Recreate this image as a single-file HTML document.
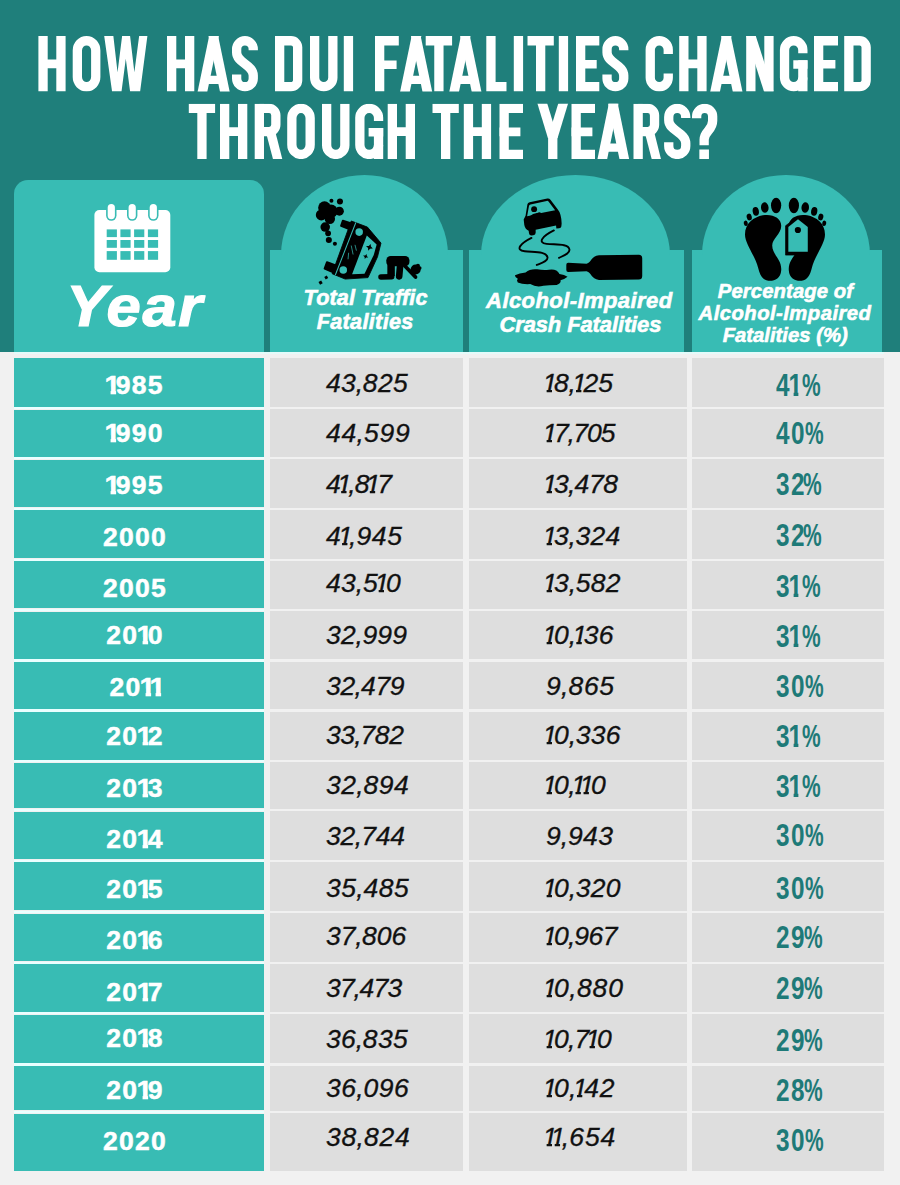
<!DOCTYPE html><html><head><meta charset="utf-8"><title>DUI Fatalities</title><style>
html,body{margin:0;padding:0}
html{width:900px;height:1185px;overflow:hidden}
body{width:900px;height:1185px;position:relative;overflow:hidden;background:#f1f1f1;font-family:"Liberation Sans",sans-serif}
.abs{position:absolute}
.banner{left:0;top:0;width:900px;height:352px;background:#1f7f7b}
.yr{position:absolute;background:#38bcb4;left:14px;width:250.2px}
.g2{position:absolute;background:#dedede;left:270.3px;width:192.7px}
.g3{position:absolute;background:#dedede;left:469px;width:217.6px}
.g4{position:absolute;background:#dedede;left:692px;width:192px}
.wl{position:absolute;left:14px;width:250.2px;height:2.4px;background:#e9ffff}
.ty{position:absolute;left:35px;width:200px;text-align:center;color:#fff;font-weight:bold;font-size:26.5px;height:30px;line-height:30px;letter-spacing:1.3px;-webkit-text-stroke:0.5px #fff;white-space:nowrap}
.ty i{font-style:normal;display:inline-block;letter-spacing:0;margin:0 -4.2px 0 -1.2px;transform:scaleX(1.08);transform-origin:6px 50%;clip-path:polygon(0 0,74% 0,74% 100%,38% 100%,38% 56%,0 56%)}
.tn{position:absolute;color:#111;font-style:italic;font-size:25px;height:30px;line-height:30px;letter-spacing:1.2px;white-space:nowrap;transform:scaleX(1.06);transform-origin:0 50%;-webkit-text-stroke:0.3px #111}
.tn i{display:inline-block;letter-spacing:0;margin:0 -3.05px 0 -3.25px;clip-path:polygon(0 0,100% 0,100% 62%,64% 62%,64% 100%,28% 100%,28% 62%,0 62%)}
.tn b{font-weight:normal;margin:0 -0.6px 0 -0.4px}
.tp{position:absolute;left:776.3px;color:#1e7a78;font-weight:bold;font-size:32px;height:34px;line-height:34px;white-space:nowrap;transform-origin:0 50%;transform:scaleX(0.76);letter-spacing:2px}
.tp i{font-style:normal;display:inline-block;letter-spacing:0;margin:0 -3px 0 -3.4px;clip-path:polygon(0 0,74% 0,74% 100%,38% 100%,38% 56%,0 56%)}
.pc{position:absolute;color:#1e7a78;font-weight:bold;font-size:32px;height:34px;line-height:34px;transform-origin:0 50%;transform:scaleX(0.655)}
.hl{position:absolute;color:#fff;font-weight:bold;font-style:italic;text-align:center;white-space:nowrap;-webkit-text-stroke:0.6px #fff}
</style></head><body>
<div class="abs banner"></div>
<div class="abs" style="left:14px;top:352px;width:870px;height:2px;background:#e4fbfa"></div>
<svg class="abs" style="left:0;top:0" width="900" height="175" viewBox="0 0 900 175">
<defs><clipPath id="cl"><rect x="-5" y="0" width="60" height="55.3"/></clipPath></defs>
<g fill="none" stroke="#fff" stroke-linecap="butt" stroke-linejoin="miter">
<g transform="translate(38.4,36.1)" clip-path="url(#cl)"><path d="M4.65,0V55.3M22.55,0V55.3" stroke-width="9.3" /><path d="M4.65,27.8H22.55" stroke-width="8.8" /></g>
<g transform="translate(72.7,36.1)" clip-path="url(#cl)"><rect x="4.65" y="4.65" width="18.4" height="46" rx="9.2" ry="9.66" stroke-width="9.3"/></g>
<g transform="translate(104.2,36.1)" clip-path="url(#cl)"><path d="M0,0L9.16,0L13.34,36.1L17.92,0L25.88,0L30.16,36.1L34.94,0L43.2,0L35.93,55.3L25.88,55.3L21.6,22.6L17.32,55.3L7.86,55.3Z" fill="#fff" stroke="none"/></g>
<g transform="translate(167,36.1)" clip-path="url(#cl)"><path d="M4.65,0V55.3M22.65,0V55.3" stroke-width="9.3" /><path d="M4.65,27.8H22.65" stroke-width="8.8" /></g>
<g transform="translate(197.5,36.1)" clip-path="url(#cl)"><path d="M2.95,65.3L17.72,-6" stroke-width="9.5" /><path d="M29.35,65.3L14.58,-6" stroke-width="9.5" /><path d="M7,43.8H25.3" stroke-width="8.2" /></g>
<g transform="translate(232,36.1)" clip-path="url(#cl)"><path d="M21.25,14.2V12.95A8.3,8.3 0 0 0 4.65,12.95V16.5C4.65,27 21.25,28.5 21.25,39.5V42.35A8.3,8.3 0 0 1 4.65,42.35V38.4" stroke-width="9.3" /></g>
<g transform="translate(275,36.1)" clip-path="url(#cl)"><path d="M4.65,4.65H16.05A6.6,6.6 0 0 1 22.65,11.25V44.05A6.6,6.6 0 0 1 16.05,50.65H4.65Z" stroke-width="9.3" stroke-linejoin="miter"/></g>
<g transform="translate(310,36.1)" clip-path="url(#cl)"><path d="M4.65,0V41.55A9.1,9.1 0 0 0 22.85,41.55V0" stroke-width="9.3" /></g>
<g transform="translate(343.8,36.1)" clip-path="url(#cl)"><path d="M4.65,0V55.3" stroke-width="9.3" /></g>
<g transform="translate(375,36.1)" clip-path="url(#cl)"><path d="M4.65,0V55.3M0,4.65H23.8" stroke-width="9.3" /><path d="M0,28.6H21.6" stroke-width="8.6" /></g>
<g transform="translate(400,36.1)" clip-path="url(#cl)"><path d="M2.95,65.3L17.72,-6" stroke-width="9.5" /><path d="M29.35,65.3L14.58,-6" stroke-width="9.5" /><path d="M7,43.8H25.3" stroke-width="8.2" /></g>
<g transform="translate(425.7,36.1)" clip-path="url(#cl)"><path d="M0,4.65H26.4M13.2,0V55.3" stroke-width="9.3" /></g>
<g transform="translate(449.2,36.1)" clip-path="url(#cl)"><path d="M2.95,65.3L17.72,-6" stroke-width="9.5" /><path d="M29.35,65.3L14.58,-6" stroke-width="9.5" /><path d="M7,43.8H25.3" stroke-width="8.2" /></g>
<g transform="translate(486.3,36.1)" clip-path="url(#cl)"><path d="M4.65,0V55.3M0,50.65H20.2" stroke-width="9.3" /></g>
<g transform="translate(513.8,36.1)" clip-path="url(#cl)"><path d="M4.65,0V55.3" stroke-width="9.3" /></g>
<g transform="translate(527.5,36.1)" clip-path="url(#cl)"><path d="M0,4.65H26.3M13.15,0V55.3" stroke-width="9.3" /></g>
<g transform="translate(558.8,36.1)" clip-path="url(#cl)"><path d="M4.65,0V55.3" stroke-width="9.3" /></g>
<g transform="translate(576,36.1)" clip-path="url(#cl)"><path d="M4.65,0V55.3M0,4.65H23.3M0,50.65H23.3" stroke-width="9.3" /><path d="M0,28.1H20.7" stroke-width="8.6" /></g>
<g transform="translate(602.4,36.1)" clip-path="url(#cl)"><path d="M21.35,14.2V13A8.35,8.35 0 0 0 4.65,13V16.5C4.65,27 21.35,28.5 21.35,39.5V42.3A8.35,8.35 0 0 1 4.65,42.3V38.4" stroke-width="9.3" /></g>
<g transform="translate(645.6,36.1)" clip-path="url(#cl)"><path d="M22.65,17.8V13.65A9,9 0 0 0 4.65,13.65V41.65A9,9 0 0 0 22.65,41.65V37.3" stroke-width="9.3" /></g>
<g transform="translate(679.2,36.1)" clip-path="url(#cl)"><path d="M4.65,0V55.3M22.75,0V55.3" stroke-width="9.3" /><path d="M4.65,27.8H22.75" stroke-width="8.8" /></g>
<g transform="translate(710.1,36.1)" clip-path="url(#cl)"><path d="M2.95,65.3L17.82,-6" stroke-width="9.5" /><path d="M29.55,65.3L14.68,-6" stroke-width="9.5" /><path d="M7,43.8H25.5" stroke-width="8.2" /></g>
<g transform="translate(746.2,36.1)" clip-path="url(#cl)"><path d="M4.65,0V55.3M22.75,0V55.3" stroke-width="9.3" /><path d="M0,0H9.6L27.4,55.3H17.8Z" fill="#fff" stroke="none"/></g>
<g transform="translate(779.9,36.1)" clip-path="url(#cl)"><path d="M22.95,17.2V13.8A9.15,9.15 0 0 0 4.65,13.8V41.5A9.15,9.15 0 0 0 22.95,41.5" stroke-width="9.3" /><path d="M22.95,55.3V24.2" stroke-width="9.3" /><path d="M13.4,28.4H27.6" stroke-width="8.6" /></g>
<g transform="translate(814,36.1)" clip-path="url(#cl)"><path d="M4.65,0V55.3M0,4.65H24M0,50.65H24" stroke-width="9.3" /><path d="M0,28.1H21.4" stroke-width="8.6" /></g>
<g transform="translate(844.2,36.1)" clip-path="url(#cl)"><path d="M4.65,4.65H15.35A6.6,6.6 0 0 1 21.95,11.25V44.05A6.6,6.6 0 0 1 15.35,50.65H4.65Z" stroke-width="9.3" stroke-linejoin="miter"/></g>
</g>
<g fill="none" stroke="#fff" stroke-linecap="butt" stroke-linejoin="miter">
<g transform="translate(188.8,103.8)" clip-path="url(#cl)"><path d="M0,4.65H26.3M13.15,0V55.3" stroke-width="9.3" /></g>
<g transform="translate(220,103.8)" clip-path="url(#cl)"><path d="M4.65,0V55.3M22.65,0V55.3" stroke-width="9.3" /><path d="M4.65,27.8H22.65" stroke-width="8.8" /></g>
<g transform="translate(254.7,103.8)" clip-path="url(#cl)"><path d="M4.65,0V55.3" stroke-width="9.3" /><path d="M4.65,4.65H14.35A6.8,6.8 0 0 1 21.15,11.45V21A6.8,6.8 0 0 1 14.35,27.8H4.65" stroke-width="9.3" /><path d="M12,31.5L21,29.5L27.6,55.3H18.3Z" fill="#fff" stroke="none"/></g>
<g transform="translate(287.2,103.8)" clip-path="url(#cl)"><rect x="4.65" y="4.65" width="18.3" height="46" rx="9.15" ry="9.61" stroke-width="9.3"/></g>
<g transform="translate(322,103.8)" clip-path="url(#cl)"><path d="M4.65,0V41.55A9.1,9.1 0 0 0 22.85,41.55V0" stroke-width="9.3" /></g>
<g transform="translate(355.2,103.8)" clip-path="url(#cl)"><path d="M23.35,17.2V14A9.35,9.35 0 0 0 4.65,14V41.3A9.35,9.35 0 0 0 23.35,41.3" stroke-width="9.3" /><path d="M23.35,55.3V24.2" stroke-width="9.3" /><path d="M13.4,28.4H28" stroke-width="8.6" /></g>
<g transform="translate(387.7,103.8)" clip-path="url(#cl)"><path d="M4.65,0V55.3M22.65,0V55.3" stroke-width="9.3" /><path d="M4.65,27.8H22.65" stroke-width="8.8" /></g>
<g transform="translate(432.5,103.8)" clip-path="url(#cl)"><path d="M0,4.65H26.3M13.15,0V55.3" stroke-width="9.3" /></g>
<g transform="translate(463.8,103.8)" clip-path="url(#cl)"><path d="M4.65,0V55.3M22.65,0V55.3" stroke-width="9.3" /><path d="M4.65,27.8H22.65" stroke-width="8.8" /></g>
<g transform="translate(499.5,103.8)" clip-path="url(#cl)"><path d="M4.65,0V55.3M0,4.65H23.5M0,50.65H23.5" stroke-width="9.3" /><path d="M0,28.1H20.9" stroke-width="8.6" /></g>
<g transform="translate(537.5,103.8)" clip-path="url(#cl)"><path d="M3.4,-5L14.95,33" stroke-width="9.4" /><path d="M27.1,-5L15.55,33" stroke-width="9.4" /><path d="M15.25,30V55.3" stroke-width="9.3" /></g>
<g transform="translate(571.5,103.8)" clip-path="url(#cl)"><path d="M4.65,0V55.3M0,4.65H23.5M0,50.65H23.5" stroke-width="9.3" /><path d="M0,28.1H20.9" stroke-width="8.6" /></g>
<g transform="translate(597.3,103.8)" clip-path="url(#cl)"><path d="M2.95,65.3L17.57,-6" stroke-width="9.5" /><path d="M29.05,65.3L14.43,-6" stroke-width="9.5" /><path d="M7,43.8H25" stroke-width="8.2" /></g>
<g transform="translate(633.5,103.8)" clip-path="url(#cl)"><path d="M4.65,0V55.3" stroke-width="9.3" /><path d="M4.65,4.65H14.25A6.8,6.8 0 0 1 21.05,11.45V21A6.8,6.8 0 0 1 14.25,27.8H4.65" stroke-width="9.3" /><path d="M12,31.5L21,29.5L27.5,55.3H18.2Z" fill="#fff" stroke="none"/></g>
<g transform="translate(664.1,103.8)" clip-path="url(#cl)"><path d="M21.65,14.2V13.15A8.5,8.5 0 0 0 4.65,13.15V16.5C4.65,27 21.65,28.5 21.65,39.5V42.15A8.5,8.5 0 0 1 4.65,42.15V38.4" stroke-width="9.3" /></g>
<g transform="translate(692,103.8)" clip-path="url(#cl)"><path d="M4.65,14.5V12.65A8,8 0 0 1 20.65,12.65V17C20.65,27 12.15,27 12.15,36V41.4" stroke-width="9.3" /><path d="M12.15,45.7V55.3" stroke-width="9.6" /></g>
</g>
</svg>
<div class="abs" style="left:14px;top:180px;width:250px;height:172px;background:#38bcb4;border-radius:14px 14px 0 0"></div>
<div class="abs" style="left:270.2px;top:250px;width:192.8px;height:102px;background:#38bcb4"></div><div class="abs" style="left:281px;top:175px;width:167.0px;height:160px;background:#38bcb4;border-radius:83.5px 83.5px 0 0 / 80px 80px 0 0"></div>
<div class="abs" style="left:469px;top:250px;width:215.3px;height:102px;background:#38bcb4"></div><div class="abs" style="left:481px;top:175px;width:189.0px;height:160px;background:#38bcb4;border-radius:94.5px 94.5px 0 0 / 80px 80px 0 0"></div>
<div class="abs" style="left:692px;top:250px;width:190.0px;height:102px;background:#38bcb4"></div><div class="abs" style="left:702px;top:175px;width:167.5px;height:160px;background:#38bcb4;border-radius:83.75px 83.75px 0 0 / 80px 80px 0 0"></div>
<svg class="abs" style="left:0;top:0" width="900" height="352" viewBox="0 0 900 352">
<g>
<rect x="94.4" y="210" width="75.9" height="62.2" rx="5" fill="#fff"/>
<rect x="106.1" y="202.6" width="10.4" height="18.2" rx="5.2" fill="#38bcb4"/>
<rect x="107.7" y="204.1" width="7.2" height="15.1" rx="3.6" fill="#fff"/>
<rect x="126.99999999999999" y="202.6" width="10.4" height="18.2" rx="5.2" fill="#38bcb4"/>
<rect x="128.6" y="204.1" width="7.2" height="15.1" rx="3.6" fill="#fff"/>
<rect x="148.10000000000002" y="202.6" width="10.4" height="18.2" rx="5.2" fill="#38bcb4"/>
<rect x="149.70000000000002" y="204.1" width="7.2" height="15.1" rx="3.6" fill="#fff"/>
<rect x="106.7" y="229.4" width="10.2" height="7.7" fill="#38bcb4"/>
<rect x="106.7" y="240.0" width="10.2" height="7.8" fill="#38bcb4"/>
<rect x="106.7" y="251.1" width="10.2" height="8.7" fill="#38bcb4"/>
<rect x="120.4" y="229.4" width="10.2" height="7.7" fill="#38bcb4"/>
<rect x="120.4" y="240.0" width="10.2" height="7.8" fill="#38bcb4"/>
<rect x="120.4" y="251.1" width="10.2" height="8.7" fill="#38bcb4"/>
<rect x="134.1" y="229.4" width="10.2" height="7.7" fill="#38bcb4"/>
<rect x="134.1" y="240.0" width="10.2" height="7.8" fill="#38bcb4"/>
<rect x="134.1" y="251.1" width="10.2" height="8.7" fill="#38bcb4"/>
<rect x="147.9" y="229.4" width="10.2" height="7.7" fill="#38bcb4"/>
<rect x="147.9" y="240.0" width="10.2" height="7.8" fill="#38bcb4"/>
<rect x="147.9" y="251.1" width="10.2" height="8.7" fill="#38bcb4"/>
</g>
<g transform="translate(305,195) scale(0.14444)" fill="#000">
<circle cx="135" cy="88" r="44"/>
<circle cx="113" cy="138" r="38"/>
<circle cx="180" cy="112" r="46"/>
<circle cx="238" cy="112" r="31"/>
<circle cx="172" cy="165" r="36"/>
<circle cx="140" cy="222" r="33"/>
<circle cx="160" cy="265" r="20"/>
<circle cx="183" cy="40" r="14"/>
<circle cx="242" cy="45" r="21"/>
<circle cx="165" cy="312" r="21"/>
<circle cx="207" cy="337" r="14"/>
<circle cx="150" cy="130" r="40"/>
<path d="M262,178 L342,204 L328,244 L250,214 Z" stroke="#000" stroke-width="14" stroke-linejoin="round"/>
<path d="M152,466 L222,492 L204,538 L136,510 Z" stroke="#000" stroke-width="14" stroke-linejoin="round"/>
<path d="M320,180 L432,222 L526,333 L502,428 L436,572 L278,582 L188,545 Z" stroke="#000" stroke-width="6" stroke-linejoin="round"/>
<path d="M352,190 L210,554" stroke="#38bcb4" stroke-width="7" fill="none"/>
<path d="M428,280 L496,342 L476,416 L412,546 L326,549 Z" fill="#38bcb4"/>
<circle cx="375" cy="257" r="26" fill="#38bcb4"/>
<circle cx="265" cy="520" r="26" fill="#38bcb4"/>
<path d="M320,350 L333,412 M346,345 L356,385 M302,400 L298,445" stroke="#38bcb4" stroke-width="5" fill="none"/>
<path d="M446,337 L454.25,353.75 L471,362 L453.5,369.5 L446,387 L438.5,369.5 L421,362 L438.5,354.5 Z" transform="rotate(20 446 362)"/>
<path d="M420,407 L426.27,419.73 L439,426 L425.7,431.7 L420,445 L414.3,431.7 L401,426 L414.3,420.3 Z" transform="rotate(20 420 426)"/>
<path d="M147,557 L161,571 L147,585 L133,571 Z" transform="rotate(15 147 571)"/>
<path d="M108,592 L123,607 L108,622 L93,607 Z" transform="rotate(15 108 607)"/>
<rect x="563" y="422" width="160" height="72" rx="30"/>
<path d="M596,480 L596,562" stroke="#000" stroke-width="52" stroke-linecap="butt" fill="none"/>
<path d="M526,568 L600,566" stroke="#000" stroke-width="38" stroke-linecap="round" fill="none"/>
<path d="M658,495 L652,563" stroke="#000" stroke-width="46" stroke-linecap="round" fill="none"/>
<path d="M690,490 L765,568" stroke="#000" stroke-width="26" stroke-linecap="round" fill="none"/>
<circle cx="766" cy="516" r="35"/><circle cx="782" cy="490" r="14"/><circle cx="795" cy="506" r="12"/>
</g>
<g transform="translate(510,190) scale(0.15556)" fill="#000">
<path d="M88,190 L100,165 L112,92 Q114,82 126,78 L240,55 Q252,53 260,62 L305,122 Q330,150 332,215 L330,235 Q328,246 316,246 L298,248 L296,228 L165,255 L165,275 Q165,290 150,291 L138,292 Q124,292 122,278 L120,262 Q96,250 92,225 Z"/>
<path d="M110,168 L122,103 Q124,95 132,93 L236,70 Q244,69 249,75 L290,130 L200,148 Q190,140 178,146 L165,158 Z" fill="#38bcb4"/>
<circle cx="155" cy="123" r="19"/>
<path d="M125,170 Q155,140 190,150 L200,160 L120,180 Z"/>
<path d="M138,308 C70,342 28,386 95,394 C150,401 232,392 241,432 C246,456 205,468 172,482" stroke="#000" stroke-width="12" fill="none" stroke-linecap="round"/>
<path d="M282,260 C212,295 172,338 235,346 C290,353 374,342 382,382 C386,408 348,421 315,436" stroke="#000" stroke-width="12" fill="none" stroke-linecap="round"/>
<path d="M362,480 Q362,468 374,468 L492,474 C525,468 520,424 572,420 L828,417 Q850,417 850,440 L850,553 Q850,576 828,576 L572,578 C520,574 525,530 492,523 L374,527 Q362,527 362,515 Z"/>
<path d="M32,548 Q60,535 100,530 Q130,505 175,510 Q215,518 250,513 Q300,505 318,540 Q350,545 370,558 Q350,575 325,580 Q330,600 300,610 Q250,612 215,615 Q170,628 130,605 Q80,608 50,595 Q40,580 50,570 Q30,560 32,548 Z"/>
</g>
<g transform="translate(735,190) scale(0.11111)" fill="#000">
<path d="M250,228 C335,212 418,250 416,325 C414,400 335,440 335,500 C335,585 422,620 416,722 C411,800 350,822 300,816 C248,810 225,770 208,700 C186,600 90,485 90,400 C90,300 170,243 250,228 Z"/>
<path d="M250,228 C335,212 418,250 416,325 C414,400 335,440 335,500 C335,585 422,620 416,722 C411,800 350,822 300,816 C248,810 225,770 208,700 C186,600 90,485 90,400 C90,300 170,243 250,228 Z" transform="translate(900,0) scale(-1,1)"/>
<ellipse cx="370" cy="140" rx="46" ry="70" transform="rotate(0.0 370 140)"/>
<ellipse cx="530" cy="140" rx="46" ry="70" transform="rotate(-0.0 530 140)"/>
<ellipse cx="268" cy="158" rx="34" ry="47" transform="rotate(-5.1 268 158)"/>
<ellipse cx="632" cy="158" rx="34" ry="47" transform="rotate(5.1 632 158)"/>
<ellipse cx="187" cy="192" rx="28" ry="40" transform="rotate(-9.2 187 192)"/>
<ellipse cx="713" cy="192" rx="28" ry="40" transform="rotate(9.2 713 192)"/>
<ellipse cx="128" cy="243" rx="23" ry="31" transform="rotate(-12.1 128 243)"/>
<ellipse cx="772" cy="243" rx="23" ry="31" transform="rotate(12.1 772 243)"/>
<ellipse cx="97" cy="300" rx="18" ry="25" transform="rotate(-13.7 97 300)"/>
<ellipse cx="803" cy="300" rx="18" ry="25" transform="rotate(13.7 803 300)"/>
<path d="M455,322 L566,238 L678,322 L678,586 L455,586 Z" stroke="#000" stroke-width="6" stroke-linejoin="round"/>
<path d="M480,333 L567,264 L655,333 L655,556 L480,556 Z" fill="#38bcb4"/>
<circle cx="566" cy="360" r="28"/>
</g>
</svg>
<div class="hl" style="left:39.6px;width:190px;top:271.9px;font-size:57px;line-height:68.4px;height:68.4px;letter-spacing:1.5px;transform:scaleX(1.08);-webkit-text-stroke:1.2px #fff">Year</div>
<div class="hl" style="left:270.6px;width:190px;top:285.2px;font-size:21.6px;line-height:25.9px;height:25.9px;letter-spacing:0.15px;">Total Traffic</div>
<div class="hl" style="left:270.2px;width:190px;top:309.4px;font-size:21.6px;line-height:25.9px;height:25.9px;letter-spacing:0.35px;">Fatalities</div>
<div class="hl" style="left:484.3px;width:190px;top:287.9px;font-size:22px;line-height:26.4px;height:26.4px;letter-spacing:0.42px;">Alcohol-Impaired</div>
<div class="hl" style="left:485.4px;width:190px;top:312.2px;font-size:22px;line-height:26.4px;height:26.4px;letter-spacing:-0.12px;">Crash Fatalities</div>
<div class="hl" style="left:690.5px;width:190px;top:278.6px;font-size:20.3px;line-height:24.4px;height:24.4px;letter-spacing:0.1px;">Percentage of</div>
<div class="hl" style="left:690.0px;width:190px;top:300.9px;font-size:20.3px;line-height:24.4px;height:24.4px;letter-spacing:0.45px;">Alcohol-Impaired</div>
<div class="hl" style="left:690.2px;width:190px;top:323.0px;font-size:20.3px;line-height:24.4px;height:24.4px;letter-spacing:0.0px;">Fatalities (%)</div>
<div class="yr" style="top:358.0px;height:48.8px"></div><div class="g2" style="top:358.0px;height:49.2px"></div><div class="g3" style="top:358.0px;height:49.2px"></div><div class="g4" style="top:358.0px;height:49.2px"></div>
<div class="wl" style="top:407.1px"></div>
<div class="ty" style="top:369.7px"><i>1</i>985</div>
<div class="tn" style="left:325.9px;top:368.4px;letter-spacing:0.32px">43<b>,</b>825</div>
<div class="tn" style="left:545.9px;top:368.4px;letter-spacing:0.09px"><i>1</i>8<b>,</b><i>1</i>25</div>
<div class="tp" style="top:368.4px">4<i>1</i></div>
<div class="pc" style="left:801.6px;top:368.4px">%</div>
<div class="yr" style="top:409.8px;height:47.0px"></div><div class="g2" style="top:409.4px;height:47.8px"></div><div class="g3" style="top:409.4px;height:47.8px"></div><div class="g4" style="top:409.4px;height:47.8px"></div>
<div class="wl" style="top:457.1px"></div>
<div class="ty" style="top:418.4px"><i>1</i>990</div>
<div class="tn" style="left:325.9px;top:417.8px;letter-spacing:0.69px">44<b>,</b>599</div>
<div class="tn" style="left:545.9px;top:417.8px;letter-spacing:-0.93px"><i>1</i>7<b>,</b>705</div>
<div class="tp" style="top:416.4px">40</div>
<div class="pc" style="left:805.1px;top:416.4px">%</div>
<div class="yr" style="top:459.8px;height:47.4px"></div><div class="g2" style="top:459.4px;height:48.2px"></div><div class="g3" style="top:459.4px;height:48.2px"></div><div class="g4" style="top:459.4px;height:48.2px"></div>
<div class="wl" style="top:507.5px"></div>
<div class="ty" style="top:469.9px"><i>1</i>995</div>
<div class="tn" style="left:325.9px;top:469.0px;letter-spacing:-0.23px">4<i>1</i><b>,</b>8<i>1</i>7</div>
<div class="tn" style="left:545.9px;top:469.0px;letter-spacing:-0.30px"><i>1</i>3<b>,</b>478</div>
<div class="tp" style="top:466.7px">32</div>
<div class="pc" style="left:802.8px;top:466.7px">%</div>
<div class="yr" style="top:510.2px;height:48.1px"></div><div class="g2" style="top:509.8px;height:48.9px"></div><div class="g3" style="top:509.8px;height:48.9px"></div><div class="g4" style="top:509.8px;height:48.9px"></div>
<div class="wl" style="top:558.6px"></div>
<div class="ty" style="top:521.5px">2000</div>
<div class="tn" style="left:325.9px;top:520.6px;letter-spacing:0.62px">4<i>1</i><b>,</b>945</div>
<div class="tn" style="left:545.9px;top:520.6px;letter-spacing:0.22px"><i>1</i>3<b>,</b>324</div>
<div class="tp" style="top:518.2px">32</div>
<div class="pc" style="left:802.8px;top:518.2px">%</div>
<div class="yr" style="top:561.3px;height:47.2px"></div><div class="g2" style="top:560.9px;height:48.0px"></div><div class="g3" style="top:560.9px;height:48.0px"></div><div class="g4" style="top:560.9px;height:48.0px"></div>
<div class="wl" style="top:608.8px"></div>
<div class="ty" style="top:573.0px">2005</div>
<div class="tn" style="left:325.9px;top:567.7px;letter-spacing:0.35px">43<b>,</b>5<i>1</i>0</div>
<div class="tn" style="left:545.9px;top:567.7px;letter-spacing:0.24px"><i>1</i>3<b>,</b>582</div>
<div class="tp" style="top:568.9px">3<i>1</i></div>
<div class="pc" style="left:801.6px;top:568.9px">%</div>
<div class="yr" style="top:611.5px;height:47.6px"></div><div class="g2" style="top:611.1px;height:48.4px"></div><div class="g3" style="top:611.1px;height:48.4px"></div><div class="g4" style="top:611.1px;height:48.4px"></div>
<div class="wl" style="top:659.4px"></div>
<div class="ty" style="top:620.3px">20<i>1</i>0</div>
<div class="tn" style="left:325.9px;top:619.6px;letter-spacing:0.18px">32<b>,</b>999</div>
<div class="tn" style="left:545.9px;top:619.6px;letter-spacing:0.27px"><i>1</i>0<b>,</b><i>1</i>36</div>
<div class="tp" style="top:618.5px">3<i>1</i></div>
<div class="pc" style="left:801.6px;top:618.5px">%</div>
<div class="yr" style="top:662.1px;height:47.0px"></div><div class="g2" style="top:661.7px;height:47.8px"></div><div class="g3" style="top:661.7px;height:47.8px"></div><div class="g4" style="top:661.7px;height:47.8px"></div>
<div class="wl" style="top:709.4px"></div>
<div class="ty" style="top:671.8px">20<i>1</i><i>1</i></div>
<div class="tn" style="left:325.9px;top:671.2px;letter-spacing:-0.27px">32<b>,</b>479</div>
<div class="tn" style="left:545.9px;top:671.2px;letter-spacing:0.65px">9<b>,</b>865</div>
<div class="tp" style="top:668.7px">30</div>
<div class="pc" style="left:804.5px;top:668.7px">%</div>
<div class="yr" style="top:712.1px;height:47.6px"></div><div class="g2" style="top:711.7px;height:48.4px"></div><div class="g3" style="top:711.7px;height:48.4px"></div><div class="g4" style="top:711.7px;height:48.4px"></div>
<div class="wl" style="top:760.0px"></div>
<div class="ty" style="top:720.6px">20<i>1</i>2</div>
<div class="tn" style="left:325.9px;top:719.5px;letter-spacing:-0.40px">33<b>,</b>782</div>
<div class="tn" style="left:545.9px;top:719.5px;letter-spacing:0.24px"><i>1</i>0<b>,</b>336</div>
<div class="tp" style="top:718.8px">3<i>1</i></div>
<div class="pc" style="left:801.6px;top:718.8px">%</div>
<div class="yr" style="top:762.7px;height:45.8px"></div><div class="g2" style="top:762.3px;height:46.6px"></div><div class="g3" style="top:762.3px;height:46.6px"></div><div class="g4" style="top:762.3px;height:46.6px"></div>
<div class="wl" style="top:808.8px"></div>
<div class="ty" style="top:772.6px">20<i>1</i>3</div>
<div class="tn" style="left:325.9px;top:769.7px;letter-spacing:0.52px">32<b>,</b>894</div>
<div class="tn" style="left:545.9px;top:769.7px;letter-spacing:-0.15px"><i>1</i>0<b>,</b><i>1</i><i>1</i>0</div>
<div class="tp" style="top:768.6px">3<i>1</i></div>
<div class="pc" style="left:801.6px;top:768.6px">%</div>
<div class="yr" style="top:811.5px;height:47.9px"></div><div class="g2" style="top:811.1px;height:48.7px"></div><div class="g3" style="top:811.1px;height:48.7px"></div><div class="g4" style="top:811.1px;height:48.7px"></div>
<div class="wl" style="top:859.7px"></div>
<div class="ty" style="top:823.8px">20<i>1</i>4</div>
<div class="tn" style="left:325.9px;top:821.3px;letter-spacing:-0.20px">32<b>,</b>744</div>
<div class="tn" style="left:545.9px;top:821.3px;letter-spacing:0.38px">9<b>,</b>943</div>
<div class="tp" style="top:818.0px">30</div>
<div class="pc" style="left:804.5px;top:818.0px">%</div>
<div class="yr" style="top:862.4px;height:48.1px"></div><div class="g2" style="top:862.0px;height:48.9px"></div><div class="g3" style="top:862.0px;height:48.9px"></div><div class="g4" style="top:862.0px;height:48.9px"></div>
<div class="wl" style="top:910.8px"></div>
<div class="ty" style="top:873.8px">20<i>1</i>5</div>
<div class="tn" style="left:325.9px;top:872.8px;letter-spacing:0.52px">35<b>,</b>485</div>
<div class="tn" style="left:545.9px;top:872.8px;letter-spacing:0.25px"><i>1</i>0<b>,</b>320</div>
<div class="tp" style="top:870.6px">30</div>
<div class="pc" style="left:804.5px;top:870.6px">%</div>
<div class="yr" style="top:913.5px;height:47.8px"></div><div class="g2" style="top:913.1px;height:48.6px"></div><div class="g3" style="top:913.1px;height:48.6px"></div><div class="g4" style="top:913.1px;height:48.6px"></div>
<div class="wl" style="top:961.6px"></div>
<div class="ty" style="top:925.4px">20<i>1</i>6</div>
<div class="tn" style="left:325.9px;top:920.8px;letter-spacing:0.05px">37<b>,</b>806</div>
<div class="tn" style="left:545.9px;top:920.8px;letter-spacing:-0.45px"><i>1</i>0<b>,</b>967</div>
<div class="tp" style="top:920.1px">29</div>
<div class="pc" style="left:803.5px;top:920.1px">%</div>
<div class="yr" style="top:964.3px;height:47.5px"></div><div class="g2" style="top:963.9px;height:48.3px"></div><div class="g3" style="top:963.9px;height:48.3px"></div><div class="g4" style="top:963.9px;height:48.3px"></div>
<div class="wl" style="top:1012.1px"></div>
<div class="ty" style="top:977.0px">20<i>1</i>7</div>
<div class="tn" style="left:325.9px;top:973.4px;letter-spacing:-0.73px">37<b>,</b>473</div>
<div class="tn" style="left:545.9px;top:973.4px;letter-spacing:0.85px"><i>1</i>0<b>,</b>880</div>
<div class="tp" style="top:970.9px">29</div>
<div class="pc" style="left:803.5px;top:970.9px">%</div>
<div class="yr" style="top:1014.8px;height:48.1px"></div><div class="g2" style="top:1014.4px;height:48.9px"></div><div class="g3" style="top:1014.4px;height:48.9px"></div><div class="g4" style="top:1014.4px;height:48.9px"></div>
<div class="wl" style="top:1063.2px"></div>
<div class="ty" style="top:1023.2px">20<i>1</i>8</div>
<div class="tn" style="left:325.9px;top:1023.5px;letter-spacing:0.32px">36<b>,</b>835</div>
<div class="tn" style="left:545.9px;top:1023.5px;letter-spacing:-0.30px"><i>1</i>0<b>,</b>7<i>1</i>0</div>
<div class="tp" style="top:1022.5px">29</div>
<div class="pc" style="left:803.5px;top:1022.5px">%</div>
<div class="yr" style="top:1065.9px;height:44.6px"></div><div class="g2" style="top:1065.5px;height:45.4px"></div><div class="g3" style="top:1065.5px;height:45.4px"></div><div class="g4" style="top:1065.5px;height:45.4px"></div>
<div class="wl" style="top:1110.8px"></div>
<div class="ty" style="top:1074.8px">20<i>1</i>9</div>
<div class="tn" style="left:325.9px;top:1073.0px;letter-spacing:0.51px">36<b>,</b>096</div>
<div class="tn" style="left:545.9px;top:1073.0px;letter-spacing:0.53px"><i>1</i>0<b>,</b><i>1</i>42</div>
<div class="tp" style="top:1073.0px">28</div>
<div class="pc" style="left:803.5px;top:1073.0px">%</div>
<div class="yr" style="top:1113.5px;height:57.1px"></div><div class="g2" style="top:1113.1px;height:57.5px"></div><div class="g3" style="top:1113.1px;height:57.5px"></div><div class="g4" style="top:1113.1px;height:57.5px"></div>
<div class="ty" style="top:1126.3px">2020</div>
<div class="tn" style="left:325.9px;top:1122.4px;letter-spacing:0.72px">38<b>,</b>824</div>
<div class="tn" style="left:545.9px;top:1122.4px;letter-spacing:0.80px"><i>1</i><i>1</i><b>,</b>654</div>
<div class="tp" style="top:1123.1px">30</div>
<div class="pc" style="left:804.5px;top:1123.1px">%</div>
</body></html>
